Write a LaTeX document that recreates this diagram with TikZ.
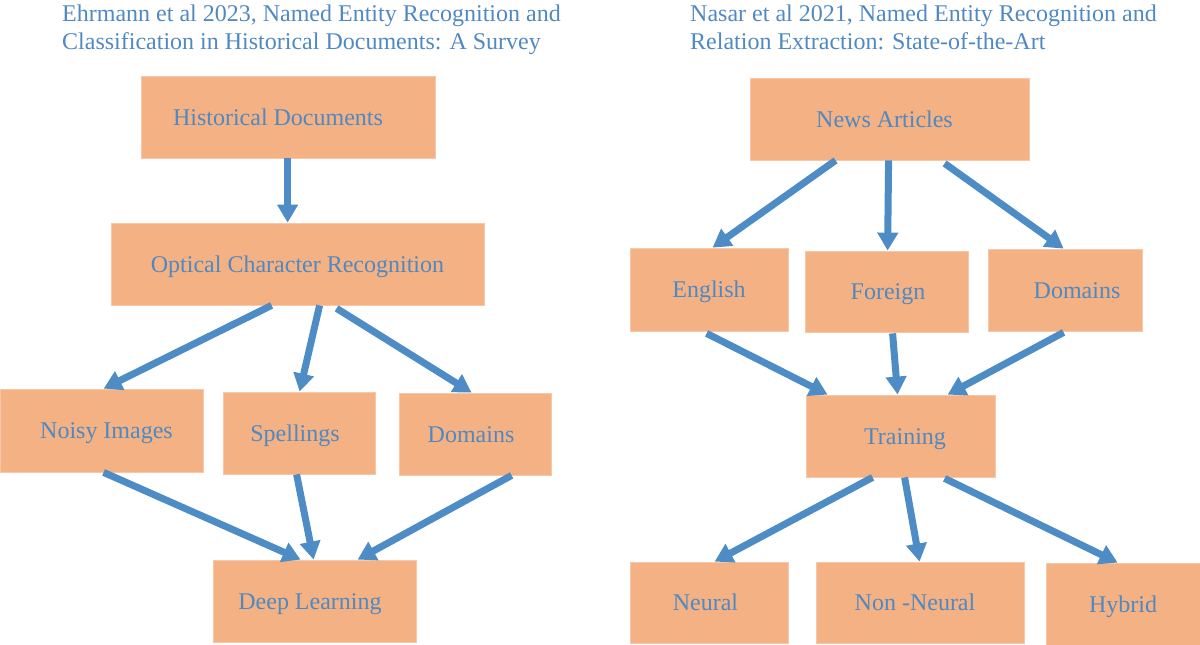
\documentclass[tikz,border=0pt]{standalone}
\usepackage{fontspec}
\setmainfont{Liberation Serif}
\usetikzlibrary{arrows.meta,calc}
\definecolor{boxfill}{HTML}{F4B183}
\definecolor{txtblue}{HTML}{5089C1}
\definecolor{arrblue}{HTML}{4D8CC4}
\begin{document}
\begin{tikzpicture}[x=1pt,y=-1pt,
  box/.style={fill=boxfill, draw=boxfill!70!white, line width=0.8pt, inner sep=0pt,
    text=txtblue, font=\fontsize{24}{28}\selectfont, text height=18pt, text depth=2pt},
  flow/.style={draw=arrblue, line width=7pt, -{Triangle[length=18pt,width=20pt]}},
  heading/.style={anchor=base west, inner sep=0pt, text=txtblue, font=\fontsize{24}{28}\selectfont}]
\useasboundingbox (0,0) rectangle (1200,645);

% titles
\node[heading] (t1a) at (62,21) {Ehrmann et al 2023, Named Entity Recognition and};
\node[heading] (t1b) at (62,49) {Classification in Historical Documents: A Survey};
\node[heading] (t2a) at (690,21) {Nasar et al 2021, Named Entity Recognition and};
\node[heading] (t2b) at (690,49) {Relation Extraction: State-of-the-Art};

% left diagram
\node[box, minimum width=294pt, minimum height=82pt] (hd) at (288,117) {\hspace*{-20pt}Historical Documents};
\node[box, minimum width=373pt, minimum height=82pt] (ocr) at (297.5,264) {Optical Character Recognition};
\node[box, minimum width=203pt, minimum height=83pt] (noisy) at (101.5,430.5) {\hspace*{10pt}Noisy Images};
\node[box, minimum width=152pt, minimum height=82pt] (spell) at (299,433) {\hspace*{-8pt}Spellings};
\node[box, minimum width=152pt, minimum height=82pt] (dom1) at (475,434) {\hspace*{-8pt}Domains};
\node[box, minimum width=203pt, minimum height=82pt] (deep) at (314.5,601) {\hspace*{-9pt}Deep Learning};

% right diagram
\node[box, minimum width=279pt, minimum height=82pt] (news) at (889.5,119) {\hspace*{-10pt}News Articles};
\node[box, minimum width=158pt, minimum height=83pt] (eng) at (709,289.5) {English};
\node[box, minimum width=163pt, minimum height=81pt] (foreign) at (886.5,291.5) {\hspace*{3pt}Foreign};
\node[box, minimum width=154pt, minimum height=82pt] (dom2) at (1065,290) {\hspace*{24pt}Domains};
\node[box, minimum width=189pt, minimum height=82pt] (train) at (900.5,436) {\hspace*{9pt}Training};
\node[box, minimum width=158pt, minimum height=81pt] (neural) at (709,602.5) {\hspace*{-7pt}Neural};
\node[box, minimum width=208pt, minimum height=81pt] (nonneural) at (920,602.5) {\hspace*{-10pt}Non -Neural};
\node[box, minimum width=154pt, minimum height=82pt] (hybrid) at (1123,604) {Hybrid};

% left arrows
\draw[flow] ($(hd.south west)+(147,0)$) -- ($(ocr.north west)+(177,0)$);
\draw[flow] ($(ocr.south west)+(161,0)$) -- ($(noisy.north west)+(104,0)$);
\draw[flow] ($(ocr.south west)+(209,0)$) -- ($(spell.north west)+(77,0)$);
\draw[flow] ($(ocr.south west)+(226,3)$) -- ($(dom1.north west)+(73,0)$);
\draw[flow] ($(noisy.south west)+(104,0)$) -- ($(deep.north west)+(88,0)$);
\draw[flow] ($(spell.south west)+(74,0)$) -- ($(deep.north west)+(101,0)$);
\draw[flow] ($(dom1.south west)+(113,0)$) -- ($(deep.north west)+(145,0)$);

% right arrows
\draw[flow] ($(news.south west)+(86,0)$) -- ($(eng.north west)+(83,0)$);
\draw[flow] ($(news.south west)+(139,0)$) -- ($(foreign.north west)+(83,0)$);
\draw[flow] ($(news.south west)+(195,3)$) -- ($(dom2.north west)+(76,0)$);
\draw[flow] ($(eng.south west)+(77,2)$) -- ($(train.north west)+(22,0)$);
\draw[flow] ($(foreign.south west)+(88,1)$) -- ($(train.north west)+(92,0)$);
\draw[flow] ($(dom2.south west)+(76,1)$) -- ($(train.north west)+(142,0)$);
\draw[flow] ($(train.south west)+(67,0)$) -- ($(neural.north west)+(85,0)$);
\draw[flow] ($(train.south west)+(99,0)$) -- ($(nonneural.north west)+(104,0)$);
\draw[flow] ($(train.south west)+(139,1)$) -- ($(hybrid.north west)+(72,0)$);
\end{tikzpicture}
\end{document}
